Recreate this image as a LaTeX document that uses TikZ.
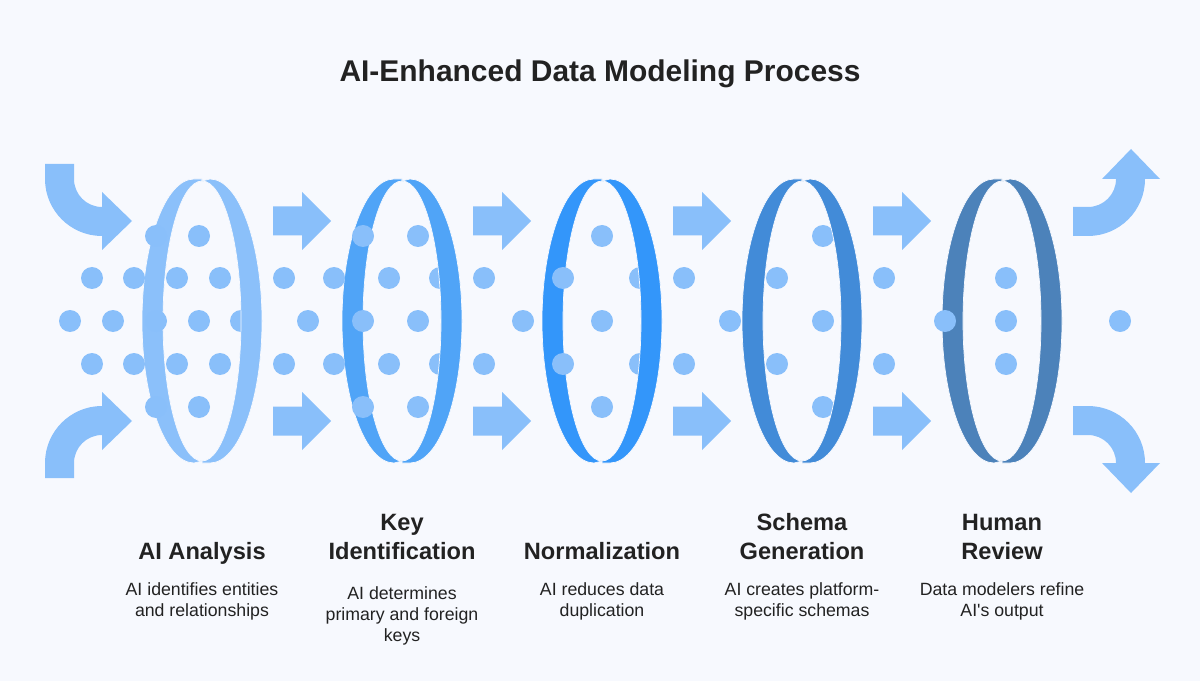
\documentclass[tikz,border=0pt]{standalone}
\usepackage{fontspec}
\setmainfont{Liberation Sans}

\definecolor{bgc}{HTML}{F7F9FE}
\definecolor{dotblue}{HTML}{89BFFA}
\definecolor{ringA}{HTML}{8BC0FA}
\definecolor{ringB}{HTML}{50A4F7}
\definecolor{ringC}{HTML}{3396FA}
\definecolor{ringD}{HTML}{428BD8}
\definecolor{ringE}{HTML}{4C82BA}
\definecolor{ink}{HTML}{222222}

\begin{document}
\begin{tikzpicture}[
    x=0.025cm, y=-0.025cm,
    dot/.style={fill=dotblue},
    flow/.style={fill=dotblue},
    band/.style={draw=bgc, line width=0.5pt},
    head/.style={
      font=\fontsize{16.8}{20.5}\selectfont\bfseries, text=ink,
      align=center, inner sep=0pt, anchor=base
    },
    desc/.style={
      font=\fontsize{12.6}{14.9}\selectfont, text=ink,
      align=center, inner sep=0pt, anchor=north
    },
  ]
    \useasboundingbox (0,0) rectangle (1200,681);
    \fill[bgc] (0,0) rectangle (1200,681);

    \node[font=\fontsize{21.3}{25}\selectfont\bfseries, text=ink,
      inner sep=0pt, anchor=base] (title) at (600,82)
      {AI-Enhanced Data Modeling Process};

    % curved arrows in and out
    \fill[flow] (45,164) -- (74,164) -- (74,179)
      arc[start angle=180, end angle=90, radius=28] -- (102,192) -- (132,221)
      -- (102,250) -- (102,236) arc[start angle=90, end angle=180, radius=57] -- cycle;
    \fill[flow] (45,478) -- (74,478) -- (74,463)
      arc[start angle=180, end angle=270, radius=28] -- (102,450) -- (132,421)
      -- (102,392) -- (102,406) arc[start angle=270, end angle=180, radius=57] -- cycle;
    \fill[flow] (1073,236) -- (1088,236)
      arc[start angle=90, end angle=0, radius=57] -- (1160,179) -- (1131,149)
      -- (1102,179) -- (1116,179) arc[start angle=0, end angle=90, radius=28]
      -- (1073,207) -- cycle;
    \fill[flow] (1073,406) -- (1088,406)
      arc[start angle=270, end angle=360, radius=57] -- (1160,463) -- (1131,493)
      -- (1102,463) -- (1116,463) arc[start angle=360, end angle=270, radius=28]
      -- (1073,435) -- cycle;

    % straight arrows between the rings
    \foreach \x in {273,473,673,873}
      \foreach \y in {221,421}
        \fill[flow] (\x,\y-14.5) -- (\x+29,\y-14.5) -- (\x+29,\y-29) -- (\x+58,\y)
          -- (\x+29,\y+29) -- (\x+29,\y+14.5) -- (\x,\y+14.5) -- cycle;

    % front half of each ring
    \foreach \cx/\col in {202/ringA, 402/ringB, 602/ringC, 802/ringD, 1002/ringE}
      \path[fill=\col, band] (\cx-8,463)
        arc[start angle=90, end angle=270, x radius=52, y radius=142]
        -- (\cx,179) -- (\cx,181)
        arc[start angle=270, end angle=90, x radius=39, y radius=140] -- cycle;

    % data points
    \foreach \x in {156,199,363,418,602,823} {
      \fill[dot] (\x,236) circle[radius=11];
      \fill[dot] (\x,407) circle[radius=11];
    }
    \foreach \x in {92,134,177,220,284,334,389,440,484,563,640,684,777,884,1006} {
      \fill[dot] (\x,278) circle[radius=11];
      \fill[dot] (\x,364) circle[radius=11];
    }
    \foreach \x in {70,113,156,199,241,308,363,418,523,602,730,823,945,1006,1120}
      \fill[dot] (\x,321) circle[radius=11];

    % back half of each ring
    \foreach \cx/\col in {202/ringA, 402/ringB, 602/ringC, 802/ringD, 1002/ringE}
      \path[fill=\col, band] (\cx+8,179)
        arc[start angle=270, end angle=450, x radius=52, y radius=142]
        -- (\cx,463) -- (\cx,461)
        arc[start angle=90, end angle=-90, x radius=39, y radius=140] -- cycle;

    \node[head] (h1) at (202,559) {AI Analysis};
    \node[head] (h2) at (402,559) {Key\\Identification};
    \node[head] (h3) at (602,559) {Normalization};
    \node[head] (h4) at (802,559) {Schema\\Generation};
    \node[head] (h5) at (1002,559) {Human\\Review};

    \node[desc] (d1) at (202,582) {AI identifies entities\\and relationships};
    \node[desc] (d2) at (402,586) {AI determines\\primary and foreign\\keys};
    \node[desc] (d3) at (602,582) {AI reduces data\\duplication};
    \node[desc] (d4) at (802,582) {AI creates platform-\\specific schemas};
    \node[desc] (d5) at (1002,582) {Data modelers refine\\AI\textquotesingle s output};
  \end{tikzpicture}
\end{document}
